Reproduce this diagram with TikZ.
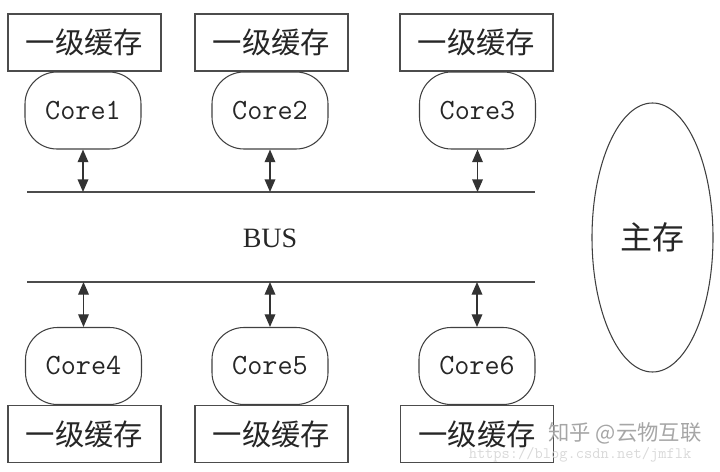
\documentclass[tikz,border=0pt]{standalone}
\usepackage{fontspec}
\setmainfont{Liberation Serif}
\newfontfamily\cjk{Noto Sans CJK SC}
\usetikzlibrary{arrows.meta,shapes.geometric}
\tikzset{
	cachebox/.style={draw=black!70, line width=0.9pt, minimum width=114.75pt, minimum height=42.75pt, inner sep=0pt, font=\cjk\fontsize{22}{22}\selectfont, text=black!85},
	corebox/.style={draw=black!75, line width=0.8pt, rounded corners=24pt, minimum width=87pt, minimum height=57.75pt, inner sep=0pt, font=\ttfamily\fontsize{22}{22}\selectfont, text=black!85},
	busline/.style={draw=black!70, line width=1pt},
	link/.style={draw=black!80, line width=1pt, {Triangle[width=8pt,length=9.5pt]}-{Triangle[width=8pt,length=9.5pt]}}
}
\begin{document}
\begin{tikzpicture}[x=0.75pt, y=-0.75pt]
			%%%%% START %%%%%
			\useasboundingbox (0, 0) rectangle (720, 471);
			
			\node[cachebox] (cache1) at (84.5, 42.5) {一级缓存};
			\node[cachebox] (cache2) at (271.5, 42.5) {一级缓存};
			\node[cachebox] (cache3) at (476.5, 42.5) {一级缓存};
			
			\node[corebox] (core1) at (83, 110.5) {Core1};
			\node[corebox] (core2) at (270, 110.5) {Core2};
			\node[corebox] (core3) at (477.5, 110.5) {Core3};
			
			\coordinate (busTL) at (27, 192);
			\coordinate (busTR) at (535, 192);
			\coordinate (busBL) at (27, 282);
			\coordinate (busBR) at (535, 282);
			\draw[busline] (busTL) -- (busTR);
			\draw[busline] (busBL) -- (busBR);
			
			\node[font=\fontsize{21}{21}\selectfont, text=black!85] (bus) at (270, 238) {BUS};
			
			\node[corebox] (core4) at (83.5, 366) {Core4};
			\node[corebox] (core5) at (270, 366) {Core5};
			\node[corebox] (core6) at (477, 366) {Core6};
			
			\node[cachebox] (cache4) at (84.5, 434) {一级缓存};
			\node[cachebox] (cache5) at (271.5, 434) {一级缓存};
			\node[cachebox] (cache6) at (477, 434) {一级缓存};
			
			\draw[link] (core1.south) -- (core1.south |- busTL);
			\draw[link] (core2.south) -- (core2.south |- busTL);
			\draw[link] (core3.south) -- (core3.south |- busTL);
			\draw[link] (core4.north) -- (core4.north |- busBL);
			\draw[link] (core5.north) -- (core5.north |- busBL);
			\draw[link] (core6.north) -- (core6.north |- busBL);
			
			\node[ellipse, draw=black!75, line width=0.8pt, minimum width=90.75pt, minimum height=201.75pt, font=\cjk\fontsize{24}{24}\selectfont, text=black!85] (mem) at (652.5, 237.5) {主存};
			
			% watermark
			\node[font=\cjk\fontsize{16}{16}\selectfont, text=black!35, inner sep=0pt] (mark) at (625, 433) {知乎 @云物互联};
			\node[font=\ttfamily\fontsize{12}{12}\selectfont, text=black!15, inner sep=0pt] (url) at (580, 455) {https://blog.csdn.net/jmflk};
			%%%%% END %%%%%
\end{tikzpicture}
\end{document}
